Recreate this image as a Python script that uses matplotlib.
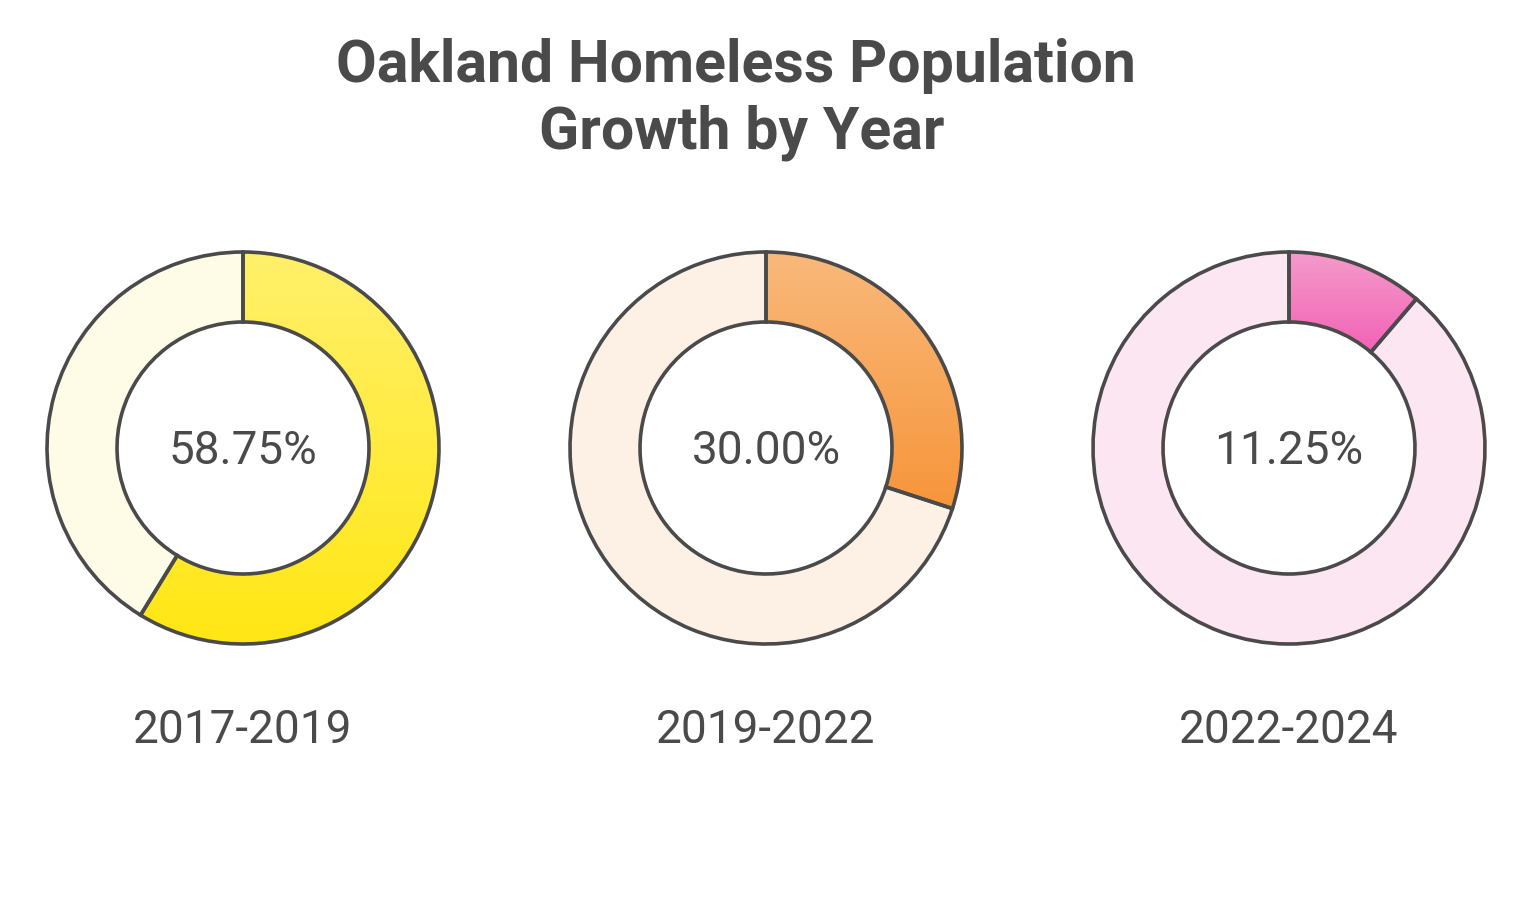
import numpy as np
import matplotlib
matplotlib.use("Agg")
import matplotlib.pyplot as plt
from matplotlib.colors import LinearSegmentedColormap

# data
periods = ["2017-2019", "2019-2022", "2022-2024"]
growth_pct = [58.75, 30.00, 11.25]
top_colors = ["#FFF06B", "#F9B97B", "#F59BCB"]
bottom_colors = ["#FFE714", "#F7953A", "#F262B6"]
rest_colors = ["#FEFBE7", "#FDF1E6", "#FCE6F2"]

W, H = 1536, 905
INK = "#4a4a4a"
plt.rcParams["font.family"] = ["Roboto", "DejaVu Sans"]

fig = plt.figure(figsize=(W / 100, H / 100), dpi=100)
fig.patch.set_facecolor("white")

centers_x = [243, 766, 1289]
cy = 448
r_out = 196
r_in = 126
half = 225

for i in range(len(periods)):
    cx = centers_x[i]
    ax = fig.add_axes([(cx - half) / W, (H - cy - half) / H, 2 * half / W, 2 * half / H])
    lim = half / r_out
    ax.set_aspect("equal")
    ax.axis("off")

    wedges, _ = ax.pie([growth_pct[i], 100 - growth_pct[i]], radius=1, startangle=90,
                       counterclock=False, colors=["none", rest_colors[i]],
                       wedgeprops=dict(width=1 - r_in / r_out, edgecolor=INK, linewidth=2.6))
    ax.set_xlim(-lim, lim)
    ax.set_ylim(-lim, lim)

    # vertical gradient fill for the highlighted slice
    hi = wedges[0]
    ext = hi.get_path().get_extents()
    cmap = LinearSegmentedColormap.from_list("g%d" % i, [bottom_colors[i], top_colors[i]])
    grad = np.linspace(0, 1, 256).reshape(-1, 1)
    im = ax.imshow(grad, cmap=cmap, origin="lower", aspect="auto",
                   extent=(ext.x0, ext.x1, ext.y0, ext.y1), zorder=0.5)
    im.set_clip_path(hi)
    hi.set_zorder(2)

    ax.text(0, -3 / r_out, "%.2f%%" % growth_pct[i], ha="center", va="center",
            fontsize=33, color=INK)
    fig.text(cx / W, 1 - 730 / H, periods[i], ha="center", va="center",
             fontsize=33, color=INK)

fig.text(736 / W, 1 - 66 / H, "Oakland Homeless Population", ha="center", va="center",
         fontsize=42.5, fontweight="bold", color=INK)
fig.text(742 / W, 1 - 133 / H, "Growth by Year", ha="center", va="center",
         fontsize=42.5, fontweight="bold", color=INK)

fig.savefig("out.png", dpi=100)
